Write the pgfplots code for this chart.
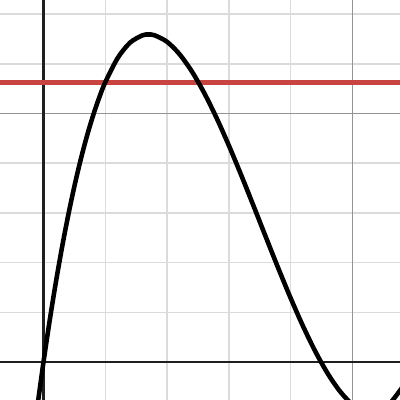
\documentclass[border=0pt]{standalone}
\usepackage{pgfplots}
\pgfplotsset{compat=1.18}
\definecolor{desred}{HTML}{C74440}
\begin{document}
\begin{tikzpicture}
\begin{axis}[
  set layers=standard,
  width=4in, height=4in, scale only axis,
  xmin=-0.704, xmax=5.769, ymin=-0.765, ymax=7.284,
  axis lines=middle,
  axis line style={-, color=black!88, line width=1.7pt},
  xtick={1,2,3,4}, ytick={1,2,3,4,6,7},
  xticklabels={}, yticklabels={},
  extra x ticks={5}, extra y ticks={5},
  extra x tick labels={}, extra y tick labels={},
  extra tick style={grid style={color=black!42, line width=1.1pt}},
  tick style={draw=none},
  grid=major,
  grid style={color=black!14, line width=1.1pt},
  clip=true,
]
\addplot[color=desred, line width=3.7pt] coordinates {(-1,5.63) (6,5.63)};
\addplot[color=black, line width=3.3pt, smooth] coordinates {
(-0.1,-0.9016) (0,0) (0.1,0.8343) (0.2,1.6032) (0.3,2.3086) (0.4,2.9523)
(0.5,3.5365) (0.6,4.0629) (0.7,4.5334) (0.8,4.9501) (0.9,5.3147) (1.0,5.6293)
(1.2,6.1158) (1.4,6.4250) (1.6,6.5722) (1.7,6.5899) (1.8,6.5728) (2.0,6.4420)
(2.2,6.1952) (2.4,5.8477) (2.6,5.4149) (2.8,4.9121) (3.0,4.3545) (3.2,3.7577)
(3.4,3.1368) (3.6,2.5072) (3.8,1.8843) (4.0,1.2833) (4.2,0.7197) (4.4,0.2087)
(4.6,-0.2343) (4.8,-0.5941) (5.0,-0.8552) (5.2,-1.0024) (5.4,-1.0) (5.6,-0.84) (5.8,-0.52)
};
\end{axis}
\pgfresetboundingbox
\useasboundingbox (current axis.south west) rectangle (current axis.north east);
\end{tikzpicture}
\end{document}
